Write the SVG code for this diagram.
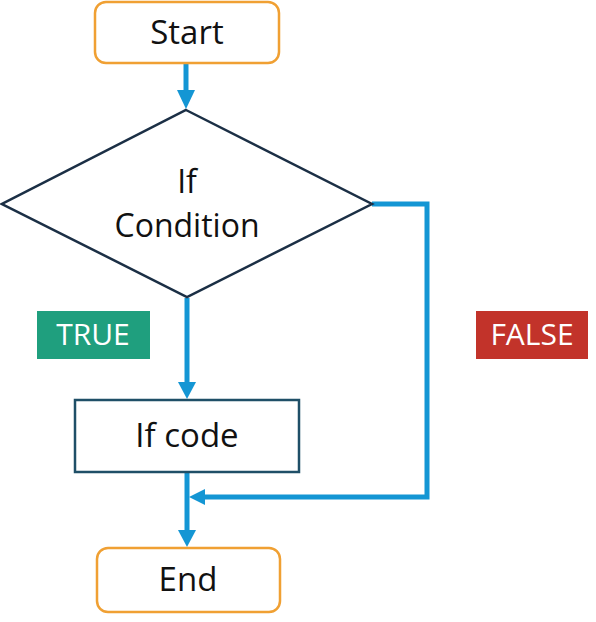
<svg xmlns="http://www.w3.org/2000/svg" width="596" height="622" viewBox="0 0 596 622">
<defs>
<style>
.t{font-family:"Open Sans","Noto Sans","DejaVu Sans",sans-serif;font-size:33px;fill:#111;text-anchor:middle}
.c{font-size:32px}
.l{font-family:"Open Sans","Noto Sans","DejaVu Sans",sans-serif;font-size:30px;fill:#fff;text-anchor:middle}
.term{fill:#fff;stroke:#f0a033;stroke-width:2.5}
.conn{fill:none;stroke:#1496d4;stroke-width:5;stroke-linejoin:miter}
.head{fill:#1496d4}
</style>
</defs>
<rect width="596" height="622" fill="#fff"/>
<g id="connectors">
<line class="conn" x1="186" y1="64" x2="186" y2="92"/>
<polygon class="head" points="177,90 195,90 186,109"/>
<line class="conn" x1="187" y1="298" x2="187" y2="384"/>
<polygon class="head" points="178,382 196,382 187,399"/>
<line class="conn" x1="187" y1="473" x2="187" y2="532"/>
<polygon class="head" points="178,530 196,530 187,547"/>
<polyline class="conn" points="372,204 427,204 427,497 203,497"/>
<polygon class="head" points="205,489 205,505 189,497"/>
</g>
<g id="start">
<rect class="term" x="95" y="2" width="184" height="61" rx="11"/>
<text class="t" x="187" y="44">Start</text>
</g>
<g id="condition">
<polygon points="186,110 372,204 187,297 2,204" fill="#fff" stroke="#1b2f45" stroke-width="2.5" stroke-linejoin="miter"/>
<text class="t c"><tspan x="187" y="193">If</tspan><tspan x="187" y="237">Condition</tspan></text>
</g>
<g id="true-label">
<rect x="37" y="311" width="113" height="48" fill="#1f9f7e"/>
<text class="l" x="93" y="345">TRUE</text>
</g>
<g id="false-label">
<rect x="476" y="311" width="112" height="48" fill="#c2332a"/>
<text class="l" x="532" y="345">FALSE</text>
</g>
<g id="ifcode">
<rect x="75" y="400" width="224" height="72" fill="#fff" stroke="#1f4f67" stroke-width="2.5"/>
<text class="t" x="187" y="447">If code</text>
</g>
<g id="end">
<rect class="term" x="97" y="548" width="183" height="64" rx="11"/>
<text class="t" x="188" y="591">End</text>
</g>
</svg>
